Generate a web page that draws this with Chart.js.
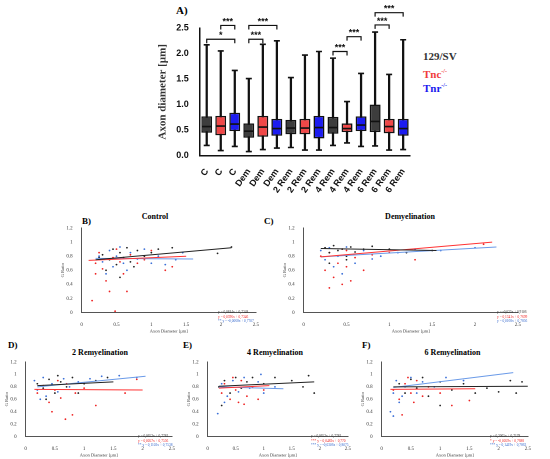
<!DOCTYPE html>
<html>
<head>
<meta charset="utf-8">
<script src="https://cdn.jsdelivr.net/npm/chart.js@4"></script>
<style>
  body { margin:0; width:550px; height:459px; position:relative; background:#fff; font-family:"Liberation Serif", serif; overflow:hidden; }
  .c { position:absolute; }
  .lbl { position:absolute; font-weight:bold; font-size:9px; }
  .ttl { position:absolute; font-weight:bold; font-size:8px; text-align:center; }
  .eq { position:absolute; font-size:3.5px; line-height:4.5px; text-align:left; }
</style>
</head>
<body>
<div class="lbl" style="left:176px;top:4px;font-size:11px">A)</div>
<div class="lbl" style="left:423px;top:50px;font-size:11px;color:#333">129/SV</div>
<div class="lbl" style="left:423px;top:68px;font-size:11px;color:#f03c3c">Tnc<sup style="font-size:6px">-/-</sup></div>
<div class="lbl" style="left:423px;top:82px;font-size:11px;color:#1a1aee">Tnr<sup style="font-size:6px">-/-</sup></div>
<canvas id="box" class="c" style="left:150px;top:0px" width="265" height="198"></canvas>

<div class="lbl" style="left:82px;top:216px">B)</div>
<div class="lbl" style="left:264px;top:216px">C)</div>
<div class="lbl" style="left:8px;top:340px">D)</div>
<div class="lbl" style="left:183px;top:340px">E)</div>
<div class="lbl" style="left:362px;top:340px">F)</div>
<div class="ttl" style="left:60px;top:212px;width:190px">Control</div>
<div class="ttl" style="left:300px;top:212px;width:220px">Demyelination</div>
<div class="ttl" style="left:20px;top:348px;width:160px">2 Remyelination</div>
<div class="ttl" style="left:200px;top:348px;width:150px">4 Remyelination</div>
<div class="ttl" style="left:375px;top:348px;width:155px">6 Remyelination</div>

<canvas id="sB" class="c" style="left:60px;top:224px" width="200" height="110"></canvas>
<canvas id="sC" class="c" style="left:282px;top:224px" width="240" height="110"></canvas>
<canvas id="sD" class="c" style="left:4px;top:358px" width="172" height="100"></canvas>
<canvas id="sE" class="c" style="left:186px;top:358px" width="166" height="100"></canvas>
<canvas id="sF" class="c" style="left:360px;top:358px" width="172" height="100"></canvas>

<div class="eq" style="left:218px;top:310px"><span style="color:#333">y = 0,0844x + 0,7348</span><br><span style="color:#e22">y = 0,0396x + 0,7346</span><br><span style="color:#36c">** y = -0,0068x + 0,7707</span></div>
<div class="eq" style="left:497px;top:310px"><span style="color:#333">y = -0,023x + 0,9106</span><br><span style="color:#e22">y = 0,1341x + 0,7699</span><br><span style="color:#36c">y = 0,0168x + 0,7856</span></div>
<div class="eq" style="left:138px;top:434px"><span style="color:#333">y = 0,0652x + 0,7781</span><br><span style="color:#e22">y = 0,0057x + 0,7556</span><br><span style="color:#36c">** y = 0,1103x + 0,7538</span></div>
<div class="eq" style="left:311px;top:434px"><span style="color:#333">y = 0,0652x + 0,7781</span><br><span style="color:#e22">*** y = 0,0483x + 0,770</span><br><span style="color:#36c">*** y = -0,0306x + 0,8075</span></div>
<div class="eq" style="left:490px;top:434px"><span style="color:#333">y = 0,2065x + 0,7178</span><br><span style="color:#e22">* y = -0,0059x + 0,7688</span><br><span style="color:#36c">*** y = 0,1419x + 0,7863</span></div>

<script>
// ---- Panel A: box plot data ----
const groups = ['C','C','C','Dem','Dem','Dem','2 Rem','2 Rem','2 Rem','4 Rem','4 Rem','4 Rem','6 Rem','6 Rem','6 Rem'];
const mins   = [0.20,0.10,0.18, 0.08,0.12,0.15, 0.16,0.11,0.11, 0.20,0.25,0.18, 0.19,0.11,0.12];
const q1s    = [0.45,0.40,0.48, 0.35,0.37,0.39, 0.42,0.42,0.34, 0.43,0.46,0.48, 0.46,0.44,0.39];
const meds   = [0.57,0.58,0.62, 0.48,0.56,0.53, 0.54,0.54,0.55, 0.55,0.53,0.60, 0.67,0.57,0.53];
const q3s    = [0.77,0.78,0.84, 0.63,0.78,0.72, 0.70,0.72,0.78, 0.76,0.63,0.77, 1.00,0.72,0.72];
const maxs   = [2.17,2.05,1.67, 1.51,2.18,2.25, 1.53,1.97,2.04, 1.91,1.06,1.61, 2.42,1.59,2.27];
const genoColors = ['#3d3d3d','#f04848','#1c1cf0'];
// brackets: [from, to, y, label]
const brackets = [[0,2,2.28,'*'],[1,2,2.55,'***'],[3,4,2.28,'***'],[3,5,2.55,'***'],
                  [9,10,2.04,'***'],[10,11,2.33,'***'],[12,13,2.56,'***'],[12,14,2.8,'***']];

const boxColors = groups.map((g,i) => genoColors[i%3]);

const boxPlugin = {
  id: 'boxExtras',
  afterDatasetsDraw(chart) {
    const {ctx, scales:{x,y}} = chart;
    ctx.save();
    ctx.strokeStyle = '#111'; ctx.lineWidth = 1.6;
    const hw = 5;
    groups.forEach((g,i) => {
      const cx = x.getPixelForValue(i);
      ctx.beginPath();
      ctx.moveTo(cx-3, y.getPixelForValue(maxs[i])); ctx.lineTo(cx+3, y.getPixelForValue(maxs[i]));
      ctx.moveTo(cx-3, y.getPixelForValue(mins[i])); ctx.lineTo(cx+3, y.getPixelForValue(mins[i]));
      ctx.moveTo(cx-hw, y.getPixelForValue(meds[i])); ctx.lineTo(cx+hw, y.getPixelForValue(meds[i]));
      ctx.stroke();
    });
    ctx.lineWidth = 1.2; ctx.fillStyle = '#111';
    ctx.font = 'bold 9px "Liberation Sans", Arial'; ctx.textAlign = 'center';
    brackets.forEach(([a,b,v,t]) => {
      const xa = x.getPixelForValue(a), xb = x.getPixelForValue(b), py = y.getPixelForValue(v);
      ctx.beginPath();
      ctx.moveTo(xa, py+4); ctx.lineTo(xa, py); ctx.lineTo(xb, py); ctx.lineTo(xb, py+4);
      ctx.stroke();
      ctx.fillText(t, (xa+xb)/2, py-1);
    });
    ctx.restore();
  }
};

new Chart(document.getElementById('box'), {
  type: 'bar',
  data: {
    labels: groups,
    datasets: [
      { data: groups.map((g,i)=>[q1s[i],q3s[i]]), backgroundColor: boxColors, borderColor:'#111',
        borderWidth:1.4, borderSkipped:false, barPercentage:0.85, categoryPercentage:0.9, grouped:false, order:1 },
      { data: groups.map((g,i)=>[mins[i],maxs[i]]), backgroundColor:'#111', barThickness:1.6, grouped:false, order:2 }
    ]
  },
  options: {
    responsive:false, animation:false, devicePixelRatio:2,
    layout:{ padding:{ top:28, left:2 } },
    plugins:{ legend:{display:false}, tooltip:{enabled:false} },
    scales: {
      x: { grid:{display:false}, border:{color:'#111', width:1.5},
           ticks:{ autoSkip:false, color:'#111', maxRotation:55, minRotation:55, font:{family:'Liberation Sans', weight:'bold', size:9} } },
      y: { min:0, max:2.5, grid:{display:false}, border:{color:'#111', width:1.5},
           ticks:{ stepSize:0.5, color:'#111', callback:v=>v.toFixed(1), font:{family:'Liberation Sans', weight:'bold', size:9} },
           title:{ display:true, text:'Axon diameter [µm]', color:'#333', font:{family:'Liberation Serif', weight:'bold', size:11} } }
    }
  },
  plugins:[boxPlugin]
});

// ---- Scatter panels (G ratio vs axon diameter), sampled points ----
const bBlack = [[0.3,0.82],[0.4,0.75],[0.45,0.9],[0.5,0.68],[0.55,0.85],[0.6,0.78],[0.65,0.92],[0.7,0.72],[0.8,0.88],[0.9,0.8],[1.0,0.85],[1.1,0.9],[1.3,0.92],[0.35,0.6],[0.55,0.5],[1.95,0.84],[2.15,0.93],[0.25,0.78],[0.75,0.65]];
const bRed   = [[0.2,0.7],[0.25,0.85],[0.3,0.62],[0.35,0.45],[0.4,0.3],[0.45,0.78],[0.5,0.9],[0.55,0.72],[0.6,0.55],[0.7,0.82],[0.8,0.7],[0.9,0.75],[1.0,0.88],[1.2,0.6],[0.15,0.17],[0.2,0.55],[0.65,0.3],[0.48,0.02],[1.3,0.65]];
const bBlue  = [[0.25,0.8],[0.3,0.72],[0.4,0.88],[0.45,0.65],[0.5,0.8],[0.55,0.93],[0.6,0.7],[0.7,0.85],[0.8,0.76],[0.9,0.9],[1.0,0.7],[1.1,0.8],[1.2,0.68],[1.35,0.75],[1.45,0.85],[0.35,0.55],[0.65,0.6]];
const bLines = [[[0.2,0.75],[2.15,0.92]],[[0.1,0.74],[1.5,0.8]],[[0.2,0.77],[1.6,0.76]]];

const cBlack = [[0.25,0.92],[0.3,0.85],[0.35,0.95],[0.4,0.88],[0.45,0.9],[0.5,0.8],[0.55,0.93],[0.6,0.86],[0.7,0.9],[0.8,0.94],[1.0,0.9],[1.2,0.85],[0.3,0.7],[0.5,0.75],[1.5,0.88]];
const cRed   = [[0.2,0.8],[0.25,0.6],[0.3,0.85],[0.35,0.5],[0.4,0.7],[0.45,0.9],[0.5,0.65],[0.55,0.45],[0.6,0.78],[0.7,0.6],[0.8,0.82],[0.3,0.35],[0.45,0.4],[1.0,0.85],[1.3,0.75],[2.1,0.97],[0.5,0.88]];
const cBlue  = [[0.2,0.88],[0.25,0.75],[0.3,0.92],[0.35,0.65],[0.4,0.8],[0.5,0.93],[0.6,0.7],[0.7,0.88],[0.8,0.76],[1.1,0.85],[1.3,0.9],[1.6,0.88],[2.0,0.92],[0.45,0.55],[0.9,0.8]];
const cLines = [[[0.2,0.91],[1.55,0.88]],[[0.2,0.79],[2.2,1.0]],[[0.2,0.79],[2.25,0.93]]];

const dBlack = [[0.2,0.85],[0.3,0.78],[0.4,0.92],[0.5,0.7],[0.6,0.88],[0.7,0.8],[0.8,0.95],[1.0,0.85],[1.2,0.9],[1.4,0.95],[0.35,0.6],[0.55,0.98],[0.9,0.7]];
const dRed   = [[0.2,0.7],[0.3,0.82],[0.4,0.55],[0.45,0.4],[0.5,0.75],[0.6,0.62],[0.7,0.85],[0.8,0.35],[0.85,0.7],[1.0,0.78],[1.2,0.5],[1.7,0.7],[1.9,0.92],[0.68,0.28],[0.55,0.9]];
const dBlue  = [[0.15,0.9],[0.2,0.75],[0.3,0.95],[0.35,0.65],[0.45,0.85],[0.55,0.72],[0.65,0.93],[0.75,0.8],[0.9,0.88],[1.1,0.93],[1.3,0.97],[1.6,0.98],[1.9,0.95],[0.25,0.6]];
const dLines = [[[0.2,0.82],[1.5,0.88]],[[0.15,0.76],[2.0,0.75]],[[0.2,0.8],[2.05,0.97]]];

const eBlack = [[0.2,0.8],[0.3,0.9],[0.4,0.7],[0.5,0.95],[0.6,0.78],[0.7,0.88],[0.8,0.95],[1.0,0.85],[1.2,0.95],[1.5,0.9],[1.8,0.98],[1.9,0.7],[1.7,0.8],[0.25,0.5]];
const eRed   = [[0.25,0.7],[0.3,0.85],[0.4,0.6],[0.5,0.75],[0.55,0.55],[0.6,0.9],[0.7,0.65],[0.8,0.8],[0.9,0.6],[1.0,0.75],[0.45,0.95],[0.65,0.52]];
const eBlue  = [[0.18,0.37],[0.25,0.85],[0.35,0.65],[0.45,0.9],[0.55,0.72],[0.65,0.95],[0.75,0.78],[0.9,0.88],[1.0,0.7],[1.2,0.8],[0.3,0.55],[0.95,1.0]];
const eLines = [[[0.2,0.81],[1.9,0.88]],[[0.2,0.78],[1.1,0.82]],[[0.2,0.8],[1.35,0.77]]];

const fBlack = [[0.3,0.85],[0.4,0.7],[0.5,0.92],[0.6,0.78],[0.7,0.95],[0.8,0.65],[1.0,0.88],[1.2,0.75],[1.4,0.85],[1.6,0.7],[1.8,0.78],[2.0,0.72],[2.3,0.7],[2.2,0.9],[2.4,0.88],[1.0,0.5]];
const fRed   = [[0.2,0.75],[0.3,0.6],[0.35,0.35],[0.4,0.85],[0.5,0.7],[0.55,0.55],[0.6,0.9],[0.7,0.65],[0.8,0.8],[1.0,0.7],[1.2,0.5],[1.5,0.58],[0.45,0.95]];
const fBlue  = [[0.15,0.4],[0.2,0.7],[0.25,0.9],[0.3,0.55],[0.4,0.8],[0.5,0.95],[0.6,0.7],[0.7,0.88],[0.9,0.8],[1.1,0.95],[1.4,0.9],[0.2,0.33],[0.35,0.65]];
const fLines = [[[0.2,0.8],[2.5,0.81]],[[0.15,0.76],[1.6,0.77]],[[0.2,0.79],[2.25,1.03]]];

const ptCol = ['#222','#ee2222','#3a6fd8'];
const lnCol = ['#222','#ff3333','#6a9ae8'];
const toXY = a => a.map(([x,y])=>({x,y}));

function scatter(id, pts, lines, fs) {
  const ds = [];
  lines.forEach((l,i) => ds.push({ type:'line', data:toXY(l), borderColor:lnCol[i], borderWidth:1, pointRadius:0, order:0 }));
  pts.forEach((p,i) => ds.push({ data:toXY(p), backgroundColor:ptCol[i], pointRadius:0.9, borderWidth:0, order:1 }));
  new Chart(document.getElementById(id), {
    type:'scatter',
    data:{ datasets: ds },
    options:{
      responsive:false, animation:false, devicePixelRatio:2,
      plugins:{ legend:{display:false}, tooltip:{enabled:false} },
      scales:{
        x:{ min:0, max:2.5, grid:{display:false}, border:{color:'#555'},
            ticks:{ stepSize:0.5, autoSkip:false, color:'#333', padding:1, font:{family:'Liberation Serif', size:fs}, callback:v=>v },
            title:{ display:true, text:'Axon Diameter [µm]', padding:0, color:'#333', font:{family:'Liberation Serif', size:fs-0.5} } },
        y:{ min:0, max:1.2, grid:{display:false}, border:{color:'#555'},
            ticks:{ stepSize:0.2, autoSkip:false, color:'#333', padding:1, font:{family:'Liberation Serif', size:fs}, callback:v=>Math.round(v*10)/10 },
            title:{ display:true, text:'G Ratio', padding:0, color:'#333', font:{family:'Liberation Serif', size:fs-0.5} } }
      }
    }
  });
}
scatter('sB', [bBlack,bRed,bBlue], bLines, 5);
scatter('sC', [cBlack,cRed,cBlue], cLines, 5);
scatter('sD', [dBlack,dRed,dBlue], dLines, 5);
scatter('sE', [eBlack,eRed,eBlue], eLines, 5);
scatter('sF', [fBlack,fRed,fBlue], fLines, 5);
</script>
</body>
</html>
